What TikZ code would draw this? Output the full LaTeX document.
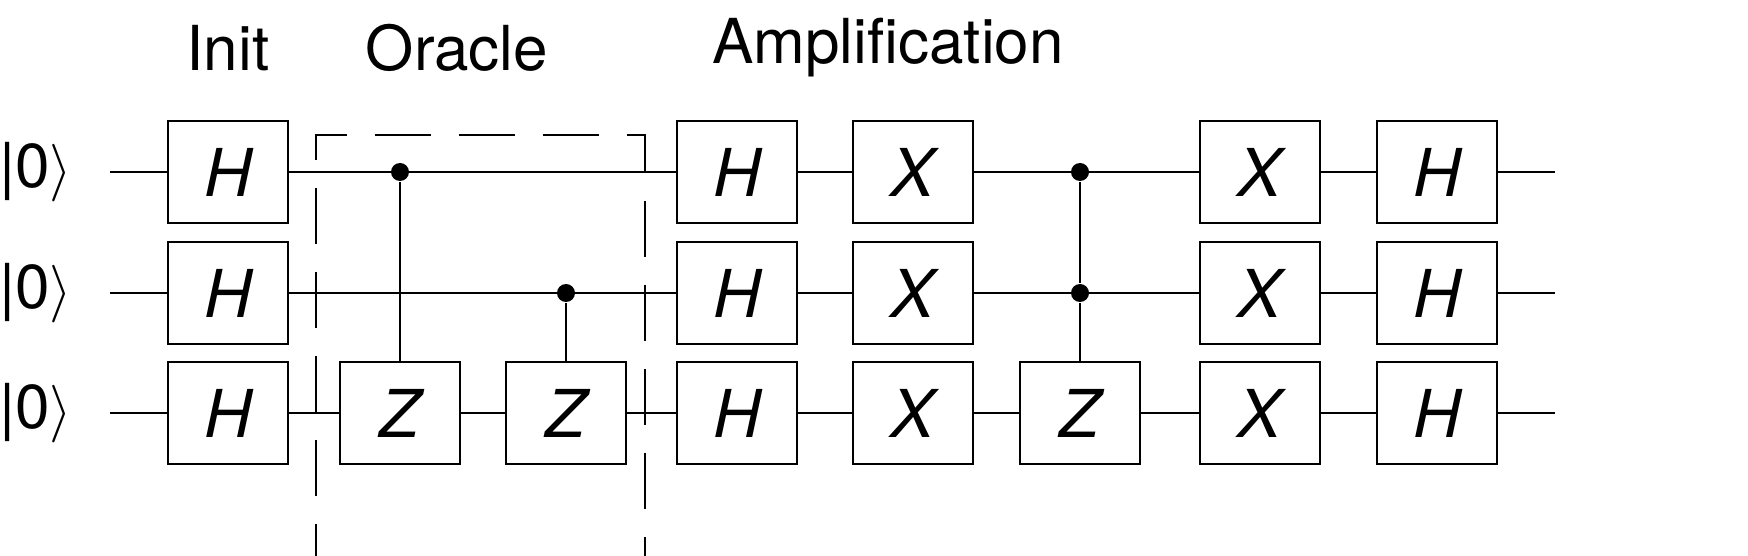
\documentclass[tikz,border=0pt]{standalone}
\usepackage{fontspec}
\setmainfont{TeX Gyre Heros}
\begin{document}
\begin{tikzpicture}[x=0.25pt,y=-0.25pt,line width=0.65pt,
  gate/.style={draw,fill=white,minimum width=30pt,minimum height=25.5pt,inner sep=0pt,font=\fontsize{16.5}{16.5}\selectfont\itshape},
  dot/.style={circle,fill,inner sep=0pt,minimum size=4.5pt},
  ttl/.style={font=\fontsize{15.5}{15.5}\selectfont},
  ket/.style={font=\fontsize{15.5}{15.5}\selectfont,anchor=west,inner sep=0pt}]
\useasboundingbox (0,0) rectangle (1748,556);
\clip (0,0) rectangle (1748,556);
% titles
\node[ttl] (tinit) at (228,48) {Init};
\node[ttl] (torc) at (457,48) {Oracle};
\node[ttl] (tamp) at (888,48) {Amplification};
% kets and wire ends
\foreach \r/\y in {1/172,2/293,3/413}{
  \node[ket] (k\r) at (-2,\y) {|0$\big\rangle$};
  \coordinate (s\r) at (110,\y);
  \coordinate (e\r) at (1555,\y);
  \draw (s\r) -- (e\r);
}
% oracle box
\coordinate (ob1) at (316,560); \coordinate (ob2) at (316,135);
\coordinate (ob3) at (645,135); \coordinate (ob4) at (645,560);
\draw[dash pattern=on 14pt off 7pt,dash phase=5pt] (ob1) -- (ob2) -- (ob3) -- (ob4);
% gates
\foreach \r/\y in {1/172,2/293,3/413}{
  \node[gate] (hi\r) at (228,\y) {H};
  \node[gate] (ha\r) at (737,\y) {H};
  \node[gate] (xa\r) at (913,\y) {X};
  \node[gate] (xb\r) at (1260,\y) {X};
  \node[gate] (hb\r) at (1437,\y) {H};
}
\node[gate] (z1) at (400,413) {Z};
\node[gate] (z2) at (566,413) {Z};
\node[gate] (z3) at (1080,413) {Z};
\node[dot] (c1) at (400,172) {};
\node[dot] (c2) at (566,293) {};
\node[dot] (c3) at (1080,172) {};
\node[dot] (c4) at (1080,293) {};
\draw[line width=0.45pt] (c1) -- (z1);
\draw[line width=0.45pt] (c2) -- (z2);
\draw[line width=0.45pt] (c3) -- (c4) -- (z3);
\end{tikzpicture}
\end{document}
